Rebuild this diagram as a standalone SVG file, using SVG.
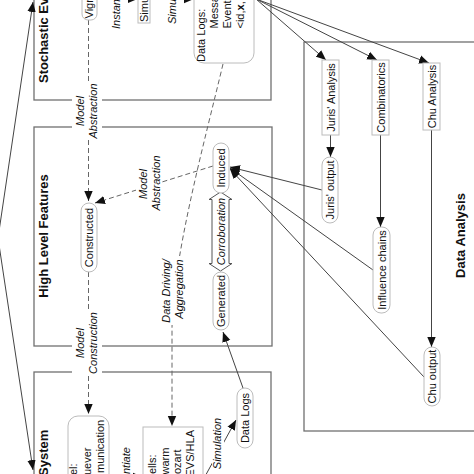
<svg xmlns="http://www.w3.org/2000/svg" width="474" height="474" viewBox="0 0 474 474">
<style>
text{font-family:"Liberation Sans",Arial,sans-serif;font-size:11px;fill:#111}
.t{font-size:13px;font-weight:bold}
.i{font-style:italic}
.m{text-anchor:middle}
.box{fill:none;stroke:#707070;stroke-width:1.3}
.nd{fill:#fff;stroke:#bcbcbc;stroke-width:1}
.ln{fill:none;stroke:#444;stroke-width:1}
.ds{fill:none;stroke:#666;stroke-width:1;stroke-dasharray:5,3}
.bg{fill:#fff}
</style>
<defs>
<marker id="ah" viewBox="0 0 10 10" refX="10" refY="5" markerWidth="10" markerHeight="10" orient="auto" markerUnits="userSpaceOnUse"><path d="M0,0.8L10,5L0,9.2z" fill="#111"/></marker>
</defs>
<rect width="474" height="474" fill="#fff"/>
<g id="containers">
<rect class="box" x="34" y="-10" width="237" height="110"/>
<rect class="box" x="34" y="127" width="238" height="219"/>
<rect class="box" x="34" y="372" width="237" height="130"/>
<rect class="box" x="304" y="42" width="200" height="389"/>
<text class="t" transform="translate(47.5,83) rotate(-90)">Stochastic Ev</text>
<text class="t m" transform="translate(47.5,236) rotate(-90)">High Level Features</text>
<text class="t" transform="translate(47.5,476) rotate(-90)">System</text>
<text class="t m" transform="translate(464.5,235.5) rotate(-90)">Data Analysis</text>
</g>
<g id="connectors">
<path class="ln" d="M-2,238L33,2" marker-end="url(#ah)"/>
<path class="ln" d="M-2,238L33,470" marker-end="url(#ah)"/>
<path class="ds" d="M88.5,20V201" marker-end="url(#ah)"/>
<path class="ds" d="M213,166L95,203" marker-end="url(#ah)"/>
<path class="ds" d="M88.5,272V414" marker-end="url(#ah)"/>
<path class="ds" d="M223,64C205,140 172,260 172,330V426" marker-end="url(#ah)"/>
<path class="ln" d="M256,-1L326,60" marker-end="url(#ah)"/>
<path class="ln" d="M256,-1L377,60" marker-end="url(#ah)"/>
<path class="ln" d="M256,-1L429,63" marker-end="url(#ah)"/>
<path class="ln" d="M330.5,135V157" marker-end="url(#ah)"/>
<path class="ln" d="M380.5,135V227" marker-end="url(#ah)"/>
<path class="ln" d="M431.5,130V347" marker-end="url(#ah)"/>
<path class="ln" d="M322,190L230,167" marker-end="url(#ah)"/>
<path class="ln" d="M373,270L230,168" marker-end="url(#ah)"/>
<path class="ln" d="M424,377L230,169" marker-end="url(#ah)"/>
<path class="ln" d="M243,388L223,332" marker-end="url(#ah)"/>
<path class="ln" d="M203,480L236,420" marker-end="url(#ah)"/>
<path class="ln" d="M97,-1H137.5" marker-end="url(#ah)"/>
<path class="ln" d="M150,-1H194" marker-end="url(#ah)"/>
<path class="ln" d="M109,477H143" marker-end="url(#ah)"/>
<path fill="#fff" stroke="#555" stroke-width="1" d="M220.5,192L232,199.5L229,199.5L229,263.5L232,263.5L220.5,271L209,263.5L212,263.5L212,199.5L209,199.5Z"/>
<text class="i m" transform="translate(224.5,231.5) rotate(-90)">Corroboration</text>
<rect class="bg" x="72" y="82" width="30" height="58"/>
<text class="i m" transform="translate(84,111) rotate(-90)">Model</text>
<text class="i m" transform="translate(97,111) rotate(-90)">Abstraction</text>
<rect class="bg" x="136" y="152" width="26" height="62"/>
<text class="i m" transform="translate(146.5,184) rotate(-90)">Model</text>
<text class="i m" transform="translate(159.5,183) rotate(-90)">Abstraction</text>
<rect class="bg" x="160" y="256" width="27" height="69"/>
<text class="i m" transform="translate(170,291) rotate(-90)">Data Driving/</text>
<text class="i m" transform="translate(183,289) rotate(-90)">Aggregation</text>
<rect class="bg" x="72" y="311" width="30" height="64"/>
<text class="i m" transform="translate(84,343) rotate(-90)">Model</text>
<text class="i m" transform="translate(97,343) rotate(-90)">Construction</text>
<rect class="bg" x="212" y="417" width="12" height="53"/>
<text class="i m" transform="translate(221,443.5) rotate(-90)">Simulation</text>
<text class="i" transform="translate(120,29) rotate(-90)">Instan</text>
<text class="i" transform="translate(175.5,24) rotate(-90)">Simu</text>
<text class="i" transform="translate(130,474) rotate(-90)">ntiate</text>
</g>
<g id="node-vigr">
<rect class="nd" x="82" y="-20" width="15" height="40" rx="6"/>
<text transform="translate(92.5,18.5) rotate(-90)">Vigr</text>
</g>
<g id="node-simu">
<rect class="nd" x="138" y="-10" width="12" height="33"/>
<text transform="translate(147.5,22) rotate(-90)">Simu</text>
</g>
<g id="node-datalogs-top">
<rect class="nd" x="194" y="-30" width="60" height="93" rx="10"/>
<text transform="translate(205,62) rotate(-90)">Data Logs:</text>
<text transform="translate(218,28.5) rotate(-90)">Messa</text>
<text transform="translate(231,28.5) rotate(-90)">Event</text>
<text transform="translate(244,28.5) rotate(-90)">&lt;id,<tspan font-weight="bold">x</tspan>,</text>
</g>
<g id="node-constructed">
<rect class="nd" x="81" y="203" width="16" height="69" rx="8"/>
<text class="m" transform="translate(93,237.5) rotate(-90)">Constructed</text>
</g>
<g id="node-induced">
<rect class="nd" x="213" y="143" width="16" height="50" rx="8"/>
<text class="m" transform="translate(225,168) rotate(-90)">Induced</text>
</g>
<g id="node-generated">
<rect class="nd" x="213" y="272" width="16" height="58" rx="8"/>
<text class="m" transform="translate(225,301) rotate(-90)">Generated</text>
</g>
<g id="node-model">
<rect class="nd" x="68" y="416" width="41" height="80" rx="10"/>
<text transform="translate(77,475) rotate(-90)">el:</text>
<text transform="translate(90.5,475) rotate(-90)">uever</text>
<text transform="translate(104,473) rotate(-90)">munication</text>
</g>
<g id="node-simmodels">
<rect class="nd" x="143" y="427" width="60" height="70"/>
<text transform="translate(156,474) rotate(-90)">ells:</text>
<text transform="translate(168.5,474.5) rotate(-90)">warm</text>
<text transform="translate(181,474) rotate(-90)">ozart</text>
<text transform="translate(193.5,476.5) rotate(-90)">EVS/HLA</text>
</g>
<g id="node-datalogs-sys">
<rect class="nd" x="237" y="388" width="16" height="60" rx="8"/>
<text class="m" transform="translate(249,418) rotate(-90)">Data Logs</text>
</g>
<g id="node-juris-analysis">
<rect class="nd" x="322" y="60" width="17" height="75"/>
<text class="m" transform="translate(334.5,97.5) rotate(-90)">Juris' Analysis</text>
</g>
<g id="node-combinatorics">
<rect class="nd" x="372" y="60" width="17" height="75"/>
<text class="m" transform="translate(384.5,97.5) rotate(-90)">Combinatorics</text>
</g>
<g id="node-chu-analysis">
<rect class="nd" x="423" y="63" width="17" height="67"/>
<text class="m" transform="translate(435.5,96.5) rotate(-90)">Chu Analysis</text>
</g>
<g id="node-juris-output">
<rect class="nd" x="322" y="157" width="16" height="66" rx="8"/>
<text class="m" transform="translate(334,190) rotate(-90)">Juris' output</text>
</g>
<g id="node-influence">
<rect class="nd" x="373" y="227" width="17" height="86" rx="8"/>
<text class="m" transform="translate(385.5,270) rotate(-90)">Influence chains</text>
</g>
<g id="node-chu-output">
<rect class="nd" x="424" y="347" width="16" height="59" rx="8"/>
<text class="m" transform="translate(436,376.5) rotate(-90)">Chu output</text>
</g>
</svg>
